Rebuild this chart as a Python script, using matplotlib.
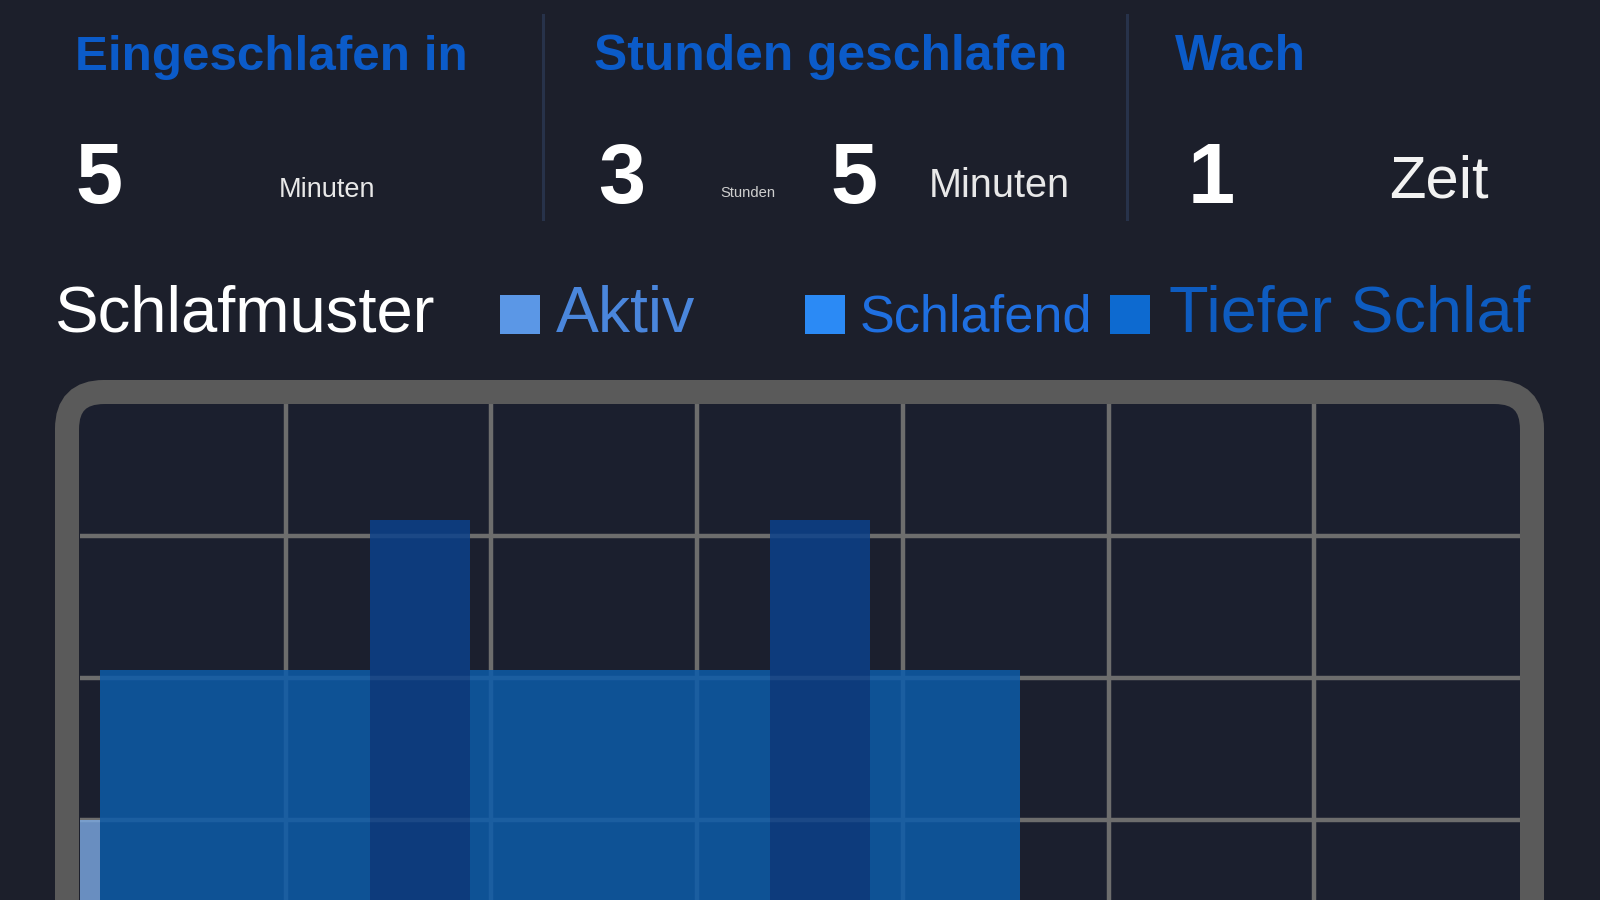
import matplotlib
matplotlib.use("Agg")
import matplotlib.pyplot as plt
from matplotlib.patches import FancyBboxPatch, Rectangle

plt.rcParams['font.family'] = ['Liberation Sans', 'DejaVu Sans']

# Werte oben
einschlaf_min = 5
schlaf_std = 3
schlaf_min = 5
wach_anzahl = 1

# Schlafphasen: Name, Höhe (Stufe)
phasen = ["Aktiv", "Schlafend", "Tiefer Schlaf"]
phasen_hoehe = [1.0, 2.05, 3.11]

# Abschnitte im Diagramm (x in Rasterspalten)
abschnitt_start = [0.0, 0.097, 1.410, 1.896, 3.354, 3.840]
abschnitt_ende = [0.097, 1.410, 1.896, 3.354, 3.840, 4.570]
abschnitt_phase = ["Aktiv", "Schlafend", "Tiefer Schlaf", "Schlafend", "Tiefer Schlaf", "Schlafend"]

bg = "#1c1f2b"
header_col = "#0b5bc9"
bar_col = {"Aktiv": "#7ba8e1", "Schlafend": "#0c5caa", "Tiefer Schlaf": "#0b418c"}
legend_sq = {"Aktiv": "#5b97e6", "Schlafend": "#2b8af5", "Tiefer Schlaf": "#0d6ad0"}
legend_txt = {"Aktiv": "#4a86dc", "Schlafend": "#1f6fe0", "Tiefer Schlaf": "#0e5cc0"}

W, H = 1600, 900
fig = plt.figure(figsize=(16, 9), dpi=100)
fig.patch.set_facecolor(bg)

def fx(x):
    return x / W

def fy(y):
    return 1 - y / H

def txt(x, y, s, size, color="white", weight="normal"):
    fig.text(fx(x), fy(y), s, fontsize=size, color=color, fontweight=weight,
             ha="left", va="baseline")

# Kopfzeile
txt(75, 70, "Eingeschlafen in", 35.6, header_col, "bold")
txt(594, 70, "Stunden geschlafen", 35.8, header_col, "bold")
txt(1175, 70, "Wach", 35.8, header_col, "bold")

txt(75, 203, str(einschlaf_min), 61, weight="bold")
txt(279, 197, "Minuten", 19.5, "#e8e8e8")
txt(598, 203, str(schlaf_std), 61, weight="bold")
txt(720, 197, "Stunden", 10.6, "#cfcfcf")
txt(830, 203, str(schlaf_min), 61, weight="bold")
txt(929, 197, "Minuten", 28.5, "#e8e8e8")
txt(1188, 203, str(wach_anzahl), 61, weight="bold")
txt(1389, 197, "Zeit", 43, "#f2f2f2")

for xs in [543, 1127]:
    fig.add_artist(plt.Line2D([fx(xs), fx(xs)], [fy(15), fy(219)],
                              color="#27324a", lw=2.2, transform=fig.transFigure))

# Legende
txt(55, 332, "Schlafmuster", 47, "white")
leg_x = {"Aktiv": (500, 556, 46.3), "Schlafend": (805, 860, 37.6), "Tiefer Schlaf": (1110, 1169, 46.6)}
for p in phasen:
    sx, tx, fs = leg_x[p]
    fig.add_artist(Rectangle((fx(sx), fy(334)), 40 / W, 39 / H, transform=fig.transFigure,
                             facecolor=legend_sq[p], edgecolor="none"))
    txt(tx, 332, p, fs, legend_txt[p])

# Diagramm
ax = fig.add_axes([fx(80), fy(961.5), (1520 - 80) / W, (961.5 - 404) / H])
ax.set_facecolor("#1b1f2e")
ax.set_xlim(0, 7)
ax.set_ylim(0, (961.5 - 404) / 142)
ax.set_xticks(range(1, 7))
ax.set_yticks([1, 2, 3])
ax.grid(True, color="#6d6d6d", lw=3.2)
ax.set_axisbelow(True)
ax.tick_params(length=0, labelbottom=False, labelleft=False)
for s in ax.spines.values():
    s.set_visible(False)

for a, b, p in zip(abschnitt_start, abschnitt_ende, abschnitt_phase):
    ax.bar(a, phasen_hoehe[phasen.index(p)], width=b - a, align="edge",
           color=bar_col[p], alpha=0.84 if p != "Aktiv" else 0.82, linewidth=0)

# abgerundeter Rahmen
rahmen = FancyBboxPatch((0.67, -1.0), 15.32 - 0.67, 5.08 + 1.0,
                        boxstyle="round,pad=0,rounding_size=0.37",
                        transform=fig.dpi_scale_trans, facecolor="none",
                        edgecolor="#5a5a5a", lw=17.3, zorder=5)
fig.add_artist(rahmen)

fig.savefig("out.png", dpi=100, facecolor=bg)
